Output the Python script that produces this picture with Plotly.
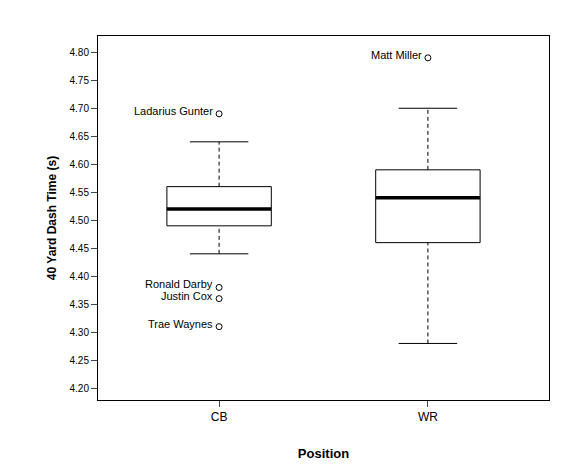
import plotly.graph_objects as go

positions = ["CB", "WR"]
xpos = [1, 2]
lower = [4.44, 4.28]
q1 = [4.49, 4.46]
median = [4.52, 4.54]
q3 = [4.56, 4.59]
upper = [4.64, 4.70]
out_x = [1, 1, 1, 1, 2]
out_y = [4.69, 4.38, 4.36, 4.31, 4.79]
out_names = ["Ladarius Gunter", "Ronald Darby", "Justin Cox", "Trae Waynes", "Matt Miller"]
yticks = [4.20, 4.25, 4.30, 4.35, 4.40, 4.45, 4.50, 4.55, 4.60, 4.65, 4.70, 4.75, 4.80]

fig = go.Figure()
shapes = []
bw, cw = 0.25, 0.14
dash = "4px,3px"
for i, x in enumerate(xpos):
    shapes.append(dict(type="rect", x0=x-bw, x1=x+bw, y0=q1[i], y1=q3[i], line=dict(color="black", width=1)))
    shapes.append(dict(type="line", x0=x-bw, x1=x+bw, y0=median[i], y1=median[i], line=dict(color="black", width=3.5)))
    shapes.append(dict(type="line", x0=x, x1=x, y0=q3[i], y1=upper[i], line=dict(color="black", width=1, dash=dash)))
    shapes.append(dict(type="line", x0=x, x1=x, y0=lower[i], y1=q1[i], line=dict(color="black", width=1, dash=dash)))
    shapes.append(dict(type="line", x0=x-cw, x1=x+cw, y0=upper[i], y1=upper[i], line=dict(color="black", width=1)))
    shapes.append(dict(type="line", x0=x-cw, x1=x+cw, y0=lower[i], y1=lower[i], line=dict(color="black", width=1)))

fig.add_trace(go.Scatter(x=out_x, y=out_y, mode="markers",
                         marker=dict(symbol="circle-open", size=6, color="black", line=dict(width=1)),
                         showlegend=False, hoverinfo="skip"))
for x, y, t in zip(out_x, out_y, out_names):
    fig.add_annotation(x=x, y=y, text=t, showarrow=False, xanchor="right", yanchor="middle",
                       xshift=-4, yshift=3, font=dict(size=11, color="black"))

fig.update_layout(
    width=585, height=474, plot_bgcolor="white", paper_bgcolor="white",
    margin=dict(l=90, r=44, t=28, b=82), shapes=shapes,
    font=dict(family="Liberation Sans, Arial", size=11, color="black"),
    xaxis=dict(range=[0.42, 2.58], tickvals=xpos, ticktext=positions, showgrid=False, zeroline=False,
               showline=True, mirror=True, linecolor="black", ticks="outside", ticklen=6,
               tickfont=dict(size=12),
               title=dict(text="<b>Position</b>", font=dict(size=13), standoff=25)),
    yaxis=dict(range=[4.179, 4.829], tickvals=yticks, tickformat=".2f", showgrid=False, zeroline=False,
               showline=True, mirror=True, linecolor="black", ticks="outside", ticklen=6,
               tickfont=dict(size=10),
               title=dict(text="<b>40 Yard Dash Time (s)</b>", font=dict(size=12), standoff=10)),
)
fig.write_html("out.html")
